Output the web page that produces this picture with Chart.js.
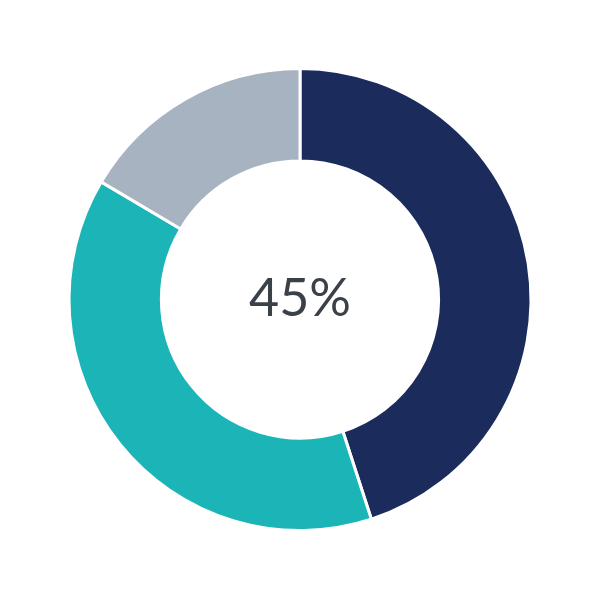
<!DOCTYPE html>
<html>
<head>
<meta charset="utf-8">
<script src="https://cdn.jsdelivr.net/npm/chart.js@4.4.0/dist/chart.umd.min.js"></script>
<style>
    html, body { margin: 0; padding: 0; background: #ffffff; }
    #wrap { width: 600px; height: 599px; }
</style>
</head>
<body>
<div id="wrap"><canvas id="donutChart"></canvas></div>
<script>
    "use strict";

    const labels = ['A', 'B', 'C'];
    const values = [45, 38.5, 16.5];
    const colors = ['#1b2b5b', '#1bb5b7', '#a8b3c2'];
    const centerLabel = '45%';

    // draws the percentage in the hole
    const centerText = {
        id: 'centerText',
        afterDraw(chart) {
            const meta = chart.getDatasetMeta(0).data[0];
            if (!meta) return;
            const ctx = chart.ctx;
            ctx.save();
            ctx.font = '400 52px Lato, "Open Sans", sans-serif';
            ctx.fillStyle = '#3a4149';
            ctx.textAlign = 'center';
            ctx.textBaseline = 'middle';
            ctx.fillText(centerLabel, meta.x, meta.y);
            ctx.restore();
        }
    };

    const ctx = document.getElementById('donutChart').getContext('2d');
    new Chart(ctx, {
        type: 'doughnut',
        data: {
            labels: labels,
            datasets: [{
                data: values,
                backgroundColor: colors,
                borderColor: '#ffffff',
                borderWidth: 3,
                hoverOffset: 0
            }]
        },
        options: {
            responsive: true,
            maintainAspectRatio: false,
            animation: false,
            cutout: '60%',
            layout: { padding: 67 },
            plugins: {
                legend: { display: false },
                tooltip: { enabled: false }
            }
        },
        plugins: [centerText]
    });
</script>
</body>
</html>
